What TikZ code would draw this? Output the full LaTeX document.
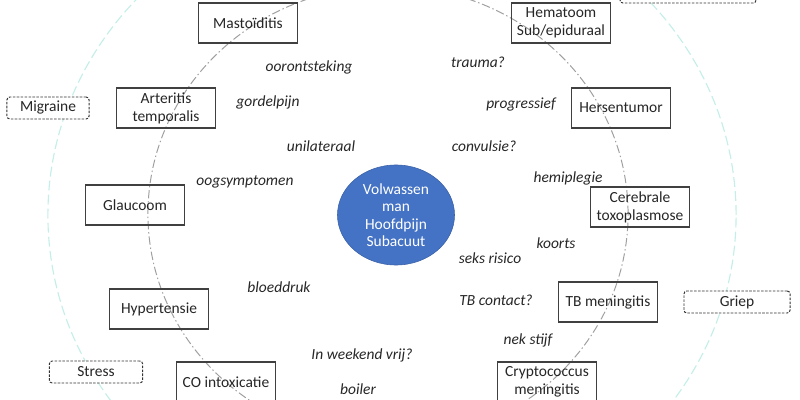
\documentclass[tikz,border=0pt]{standalone}
\usepackage{fontspec}
\setmainfont{Carlito}
\usepackage{xcolor}
\usetikzlibrary{shapes.geometric}

\definecolor{patientblue}{HTML}{4472C4}
\definecolor{ringcyan}{HTML}{C4EEE8}

\begin{document}
\begin{tikzpicture}[
  x=0.025cm, y=-0.025cm,
  font=\fontsize{11}{12.8}\selectfont,
  box/.style={rectangle, draw=black!75, line width=0.8pt, text=black!85,
              minimum width=2.475cm, minimum height=1cm, align=center, inner sep=1pt},
  altbox/.style={rectangle, rounded corners=2pt, dash pattern=on 1.8pt off 1pt,
                 draw=black!80, line width=0.7pt,
                 fill=white, text=black!85, minimum height=0.55cm, inner sep=1pt},
  hint/.style={font=\fontsize{11}{12.8}\selectfont\itshape, text=black!85},
  ring/.style={gray!75, line width=0.7pt, dash pattern=on 6pt off 2pt on 1pt off 2pt},
  outerring/.style={ringcyan, line width=0.8pt, dash pattern=on 7pt off 3pt}
]
  \clip (0,0) rectangle (800,400);

  % rings
  \draw[outerring] (392,215) ellipse [x radius=8.6cm, y radius=8.05cm];
  \draw[ring] (388,214) ellipse [x radius=6cm, y radius=5.7cm];

  % patient
  \node[ellipse, fill=patientblue, draw=patientblue!85!black, line width=0.4pt,
        minimum width=2.925cm, minimum height=2.5cm, inner sep=0pt, text=white,
        align=center, font=\fontsize{11}{12.4}\selectfont] (patient) at (396,215)
        {Volwassen\\man\\Hoofdpijn\\Subacuut};

  % differential diagnoses
  \node[box] (mastoid)   at (248,23)  {Mastoïditis};
  \node[box] (hematoom)  at (561,23)  {Hematoom\\Sub/epiduraal};
  \node[box] (arteritis) at (166,108) {Arteritis\\temporalis};
  \node[box] (tumor)     at (621,108) {Hersentumor};
  \node[box] (glaucoom)  at (135,205) {Glaucoom};
  \node[box] (toxo)      at (640,207) {Cerebrale\\toxoplasmose};
  \node[box] (hypert)    at (159,309) {Hypertensie};
  \node[box] (tbmen)     at (608,302) {TB meningitis};
  \node[box] (coint)     at (226,382) {CO intoxicatie};
  \node[box] (crypto)    at (547,382) {Cryptococcus\\meningitis};

  % outer ring
  \node[altbox, minimum width=2.05cm] (migraine) at (48,108)  {Migraine};
  \node[altbox, minimum width=2.33cm] (stress)   at (96,372)  {Stress};
  \node[altbox, minimum width=2.65cm] (griep)    at (737,302) {Griep};
  \node[altbox, minimum width=3.4cm]  (hidden)   at (688,-8)  {};

  % questions
  \node[hint] (ear)      at (309,67)  {oorontsteking};
  \node[hint] (belt)     at (268,102) {gordelpijn};
  \node[hint] (unilat)   at (321,146) {unilateraal};
  \node[hint] (eyes)     at (245,182) {oogsymptomen};
  \node[hint] (trauma)   at (478,62)  {trauma?};
  \node[hint] (progr)    at (521,105) {progressief};
  \node[hint] (convuls)  at (484,146) {convulsie?};
  \node[hint] (hemi)     at (568,178) {hemiplegie};
  \node[hint] (fever)    at (556,243) {koorts};
  \node[hint] (sex)      at (490,258) {seks risico};
  \node[hint] (tbcont)   at (496,300) {TB contact?};
  \node[hint] (neck)     at (528,340) {nek stijf};
  \node[hint] (pressure) at (279,287) {bloeddruk};
  \node[hint] (weekend)  at (362,355) {In weekend vrij?};
  \node[hint] (boiler)   at (358,389) {boiler};
\end{tikzpicture}
\end{document}
